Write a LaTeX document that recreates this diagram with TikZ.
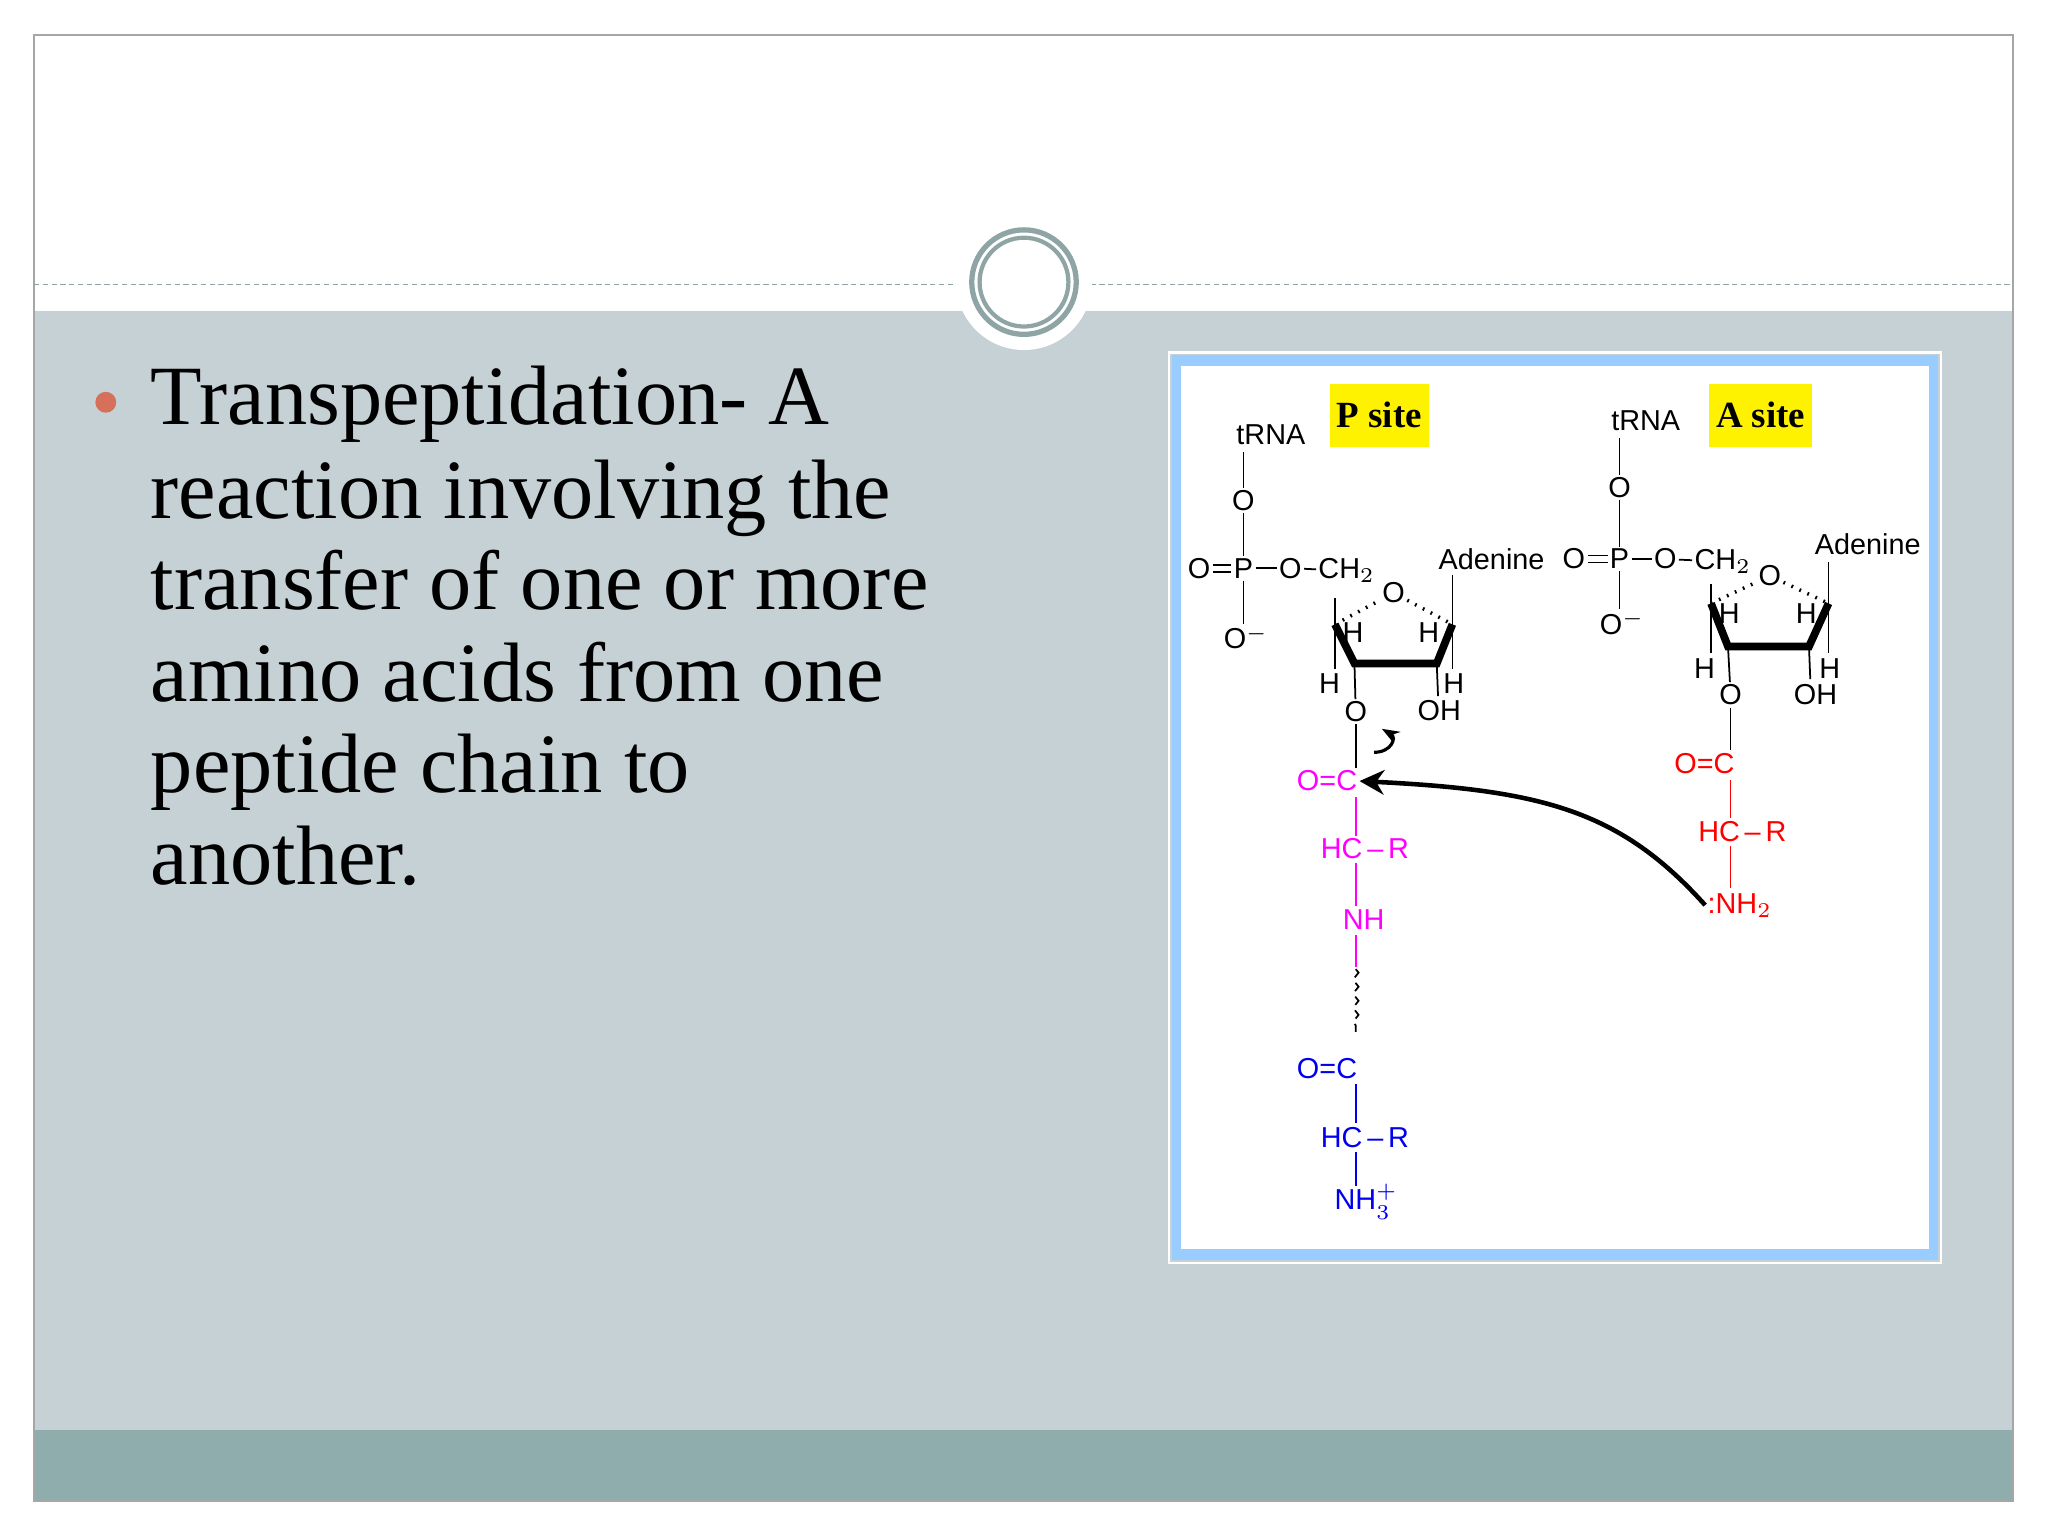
\documentclass[tikz,border=0pt]{standalone}
\usepackage{fontspec}
\setmainfont{Liberation Serif}
\newfontfamily\chemf[Ligatures=TeX]{Liberation Sans}
\usetikzlibrary{arrows.meta,decorations.pathmorphing}
\definecolor{bgg}{HTML}{C5D1D5}
\definecolor{band}{HTML}{8FADAD}
\definecolor{ringc}{HTML}{8FA5A5}
\definecolor{bul}{HTML}{D6705A}
\definecolor{fblue}{HTML}{99CCFF}
\definecolor{mag}{HTML}{FF00FF}
\definecolor{pblue}{HTML}{0000EE}
\tikzset{
 ch/.style={font=\chemf\fontsize{8.2pt}{9pt}\selectfont, inner sep=0.5pt, text=black},
 bd/.style={line width=0.5pt},
 bold/.style={line width=2.2pt},
 ylw/.style={fill=yellow, font=\fontsize{10.5pt}{12pt}\selectfont\bfseries, inner sep=2pt, minimum height=18pt},
 body/.style={font=\fontsize{24pt}{28pt}\selectfont, anchor=base west, inner sep=0}
}
\begin{document}
\begin{tikzpicture}[x=0.013061cm,y=-0.013061cm]
\useasboundingbox (0,0) rectangle (1568,1176);
\fill[white] (0,0) rectangle (1568,1176);
\fill[bgg] (26,238) rectangle (1541,1095);
\fill[band] (26,1095) rectangle (1541,1149);
\draw[gray!70,line width=0.6pt] (26,27) rectangle (1541,1149);
\draw[ringc,dash pattern=on 1.5pt off 1pt,line width=0.4pt] (26,218) -- (735,218);
\draw[ringc,dash pattern=on 1.5pt off 1pt,line width=0.4pt] (835,218) -- (1541,218);
\fill[white] (784,216) circle (52);
\draw[ringc,line width=1.5pt] (784,216) circle (40);
\draw[ringc,line width=1.2pt] (784,216) circle (34);
\fill[bul] (81,308) circle (8);
\node[body] (l1) at (115,325) {Transpeptidation- A};
\node[body] (l2) at (115,397) {reaction involving the};
\node[body] (l3) at (115,467) {transfer of one or more};
\node[body] (l4) at (115,537) {amino acids from one};
\node[body] (l5) at (115,607) {peptide chain to};
\node[body] (l6) at (115,677) {another.};
% image frame
\draw[white,line width=0.8pt] (895,270) rectangle (1486,967);
\fill[fblue] (897,272) rectangle (1484,965);
\fill[white] (904,280) rectangle (1477,956);
% ---------- P site
\node[ylw] (ps) at (1056,318) {P site};
\node[ch] (t1) at (973,333) {tRNA};
\node[ch] (o1) at (952,383) {O};
\node[ch] (od1) at (918,435) {O};
\node[ch] (p1) at (952,435) {P};
\node[ch] (ob1) at (988,435) {O};
\node[ch] (ch1) at (1031,437) {CH$_2$};
\node[ch] (om1) at (954,488) {O$^-$};
\node[ch] (ad1) at (1142,428) {Adenine};
\draw[bd] (952,346) -- (o1);
\draw[bd] (o1) -- (p1);
\draw[bd,double,double distance=1.5pt] (od1) -- (p1);
\draw[bd] (p1) -- (ob1); \draw[bd] (ob1) -- (ch1);
\draw[bd] (p1) -- (952,478);
\coordinate (a4) at (1022,478); \coordinate (a1) at (1112,478);
\coordinate (a2) at (1100,508); \coordinate (a3) at (1037,508);
\node[ch] (ro1) at (1067,454) {O};
\draw[bd,dotted,line width=1pt] (a4) -- (ro1) -- (a1);
\draw[bold] (a4) -- (a3) -- (a2) -- (a1);
\node[ch] (h11) at (1036,484) {H};
\node[ch] (h12) at (1094,484) {H};
\draw[bd] (1022,458) -- (1022,512);
\draw[bd] (1112,440) -- (1112,512);
\node[ch] (h13) at (1018,523) {H};
\node[ch] (h14) at (1113,523) {H};
\node[ch] (oh1) at (1102,544) {OH};
\draw[bd] (a2) -- (1101,533);
\node[ch] (o31) at (1038,545) {O};
\draw[bd] (a3) -- (o31);
\draw[line width=0.9pt,-{Stealth[length=5pt]}] (1052,576) to[out=0,in=-30,looseness=1.8] (1058,558);
\node[ch,text=mag] (c1) at (1016,598) {O{=}C};
\draw[bd] (o31) -- (1038,588);
\node[ch,text=mag] (hc1) at (1045,650) {HC\,–\,R};
\node[ch,text=mag] (nh1) at (1044,704) {NH};
\draw[bd,mag] (1038,610) -- (1038,640);
\draw[bd,mag] (1038,661) -- (1038,694);
\draw[bd,mag] (1038,716) -- (1038,740);
\draw[bd,densely dashed,decorate,decoration={zigzag,amplitude=0.8,segment length=4}] (1038,742) -- (1038,790);
\node[ch,text=pblue] (c2) at (1016,818) {O{=}C};
\node[ch,text=pblue] (hc2) at (1045,871) {HC\,–\,R};
\node[ch,text=pblue] (nh3) at (1046,920) {NH$_3^{+}$};
\draw[bd,pblue] (1038,830) -- (1038,860);
\draw[bd,pblue] (1038,882) -- (1038,908);
% ---------- A site
\node[ylw] (as) at (1348,318) {A site};
\node[ch] (t2) at (1260,322) {tRNA};
\node[ch] (o2) at (1240,373) {O};
\node[ch] (od2) at (1205,428) {O};
\node[ch] (p2) at (1240,428) {P};
\node[ch] (ob2) at (1275,428) {O};
\node[ch] (ch2) at (1319,430) {CH$_2$};
\node[ch] (om2) at (1242,477) {O$^-$};
\node[ch] (ad2) at (1430,417) {Adenine};
\draw[bd] (1240,335) -- (o2);
\draw[bd] (o2) -- (p2);
\draw[bd,double,double distance=1.5pt] (od2) -- (p2);
\draw[bd] (p2) -- (ob2); \draw[bd] (ob2) -- (ch2);
\draw[bd] (p2) -- (1240,466);
\coordinate (b4) at (1310,462); \coordinate (b1) at (1400,462);
\coordinate (b2) at (1385,495); \coordinate (b3) at (1323,495);
\node[ch] (ro2) at (1355,441) {O};
\draw[bd,dotted,line width=1pt] (b4) -- (ro2) -- (b1);
\draw[bold] (b4) -- (b3) -- (b2) -- (b1);
\node[ch] (h21) at (1324,470) {H};
\node[ch] (h22) at (1383,470) {H};
\draw[bd] (1310,447) -- (1310,500);
\draw[bd] (1400,430) -- (1400,500);
\node[ch] (h23) at (1305,512) {H};
\node[ch] (h24) at (1401,512) {H};
\node[ch] (oh2) at (1390,532) {OH};
\draw[bd] (b2) -- (1386,520);
\node[ch] (o32) at (1325,532) {O};
\draw[bd] (b3) -- (o32);
\node[ch,text=red] (c3) at (1305,585) {O{=}C};
\draw[bd] (o32) -- (1325,574);
\node[ch,text=red] (hc3) at (1334,637) {HC\,–\,R};
\node[ch,text=red] (nh2) at (1332,693) {:NH$_2$};
\draw[bd,red] (1325,597) -- (1325,626);
\draw[bd,red] (1325,648) -- (1325,680);
% attack arrow
\draw[line width=1.3pt,-{Stealth[length=7pt,width=7pt]}] (nh2.west) .. controls (1240,620) and (1180,605) .. (c1.east);
\end{tikzpicture}
\end{document}
